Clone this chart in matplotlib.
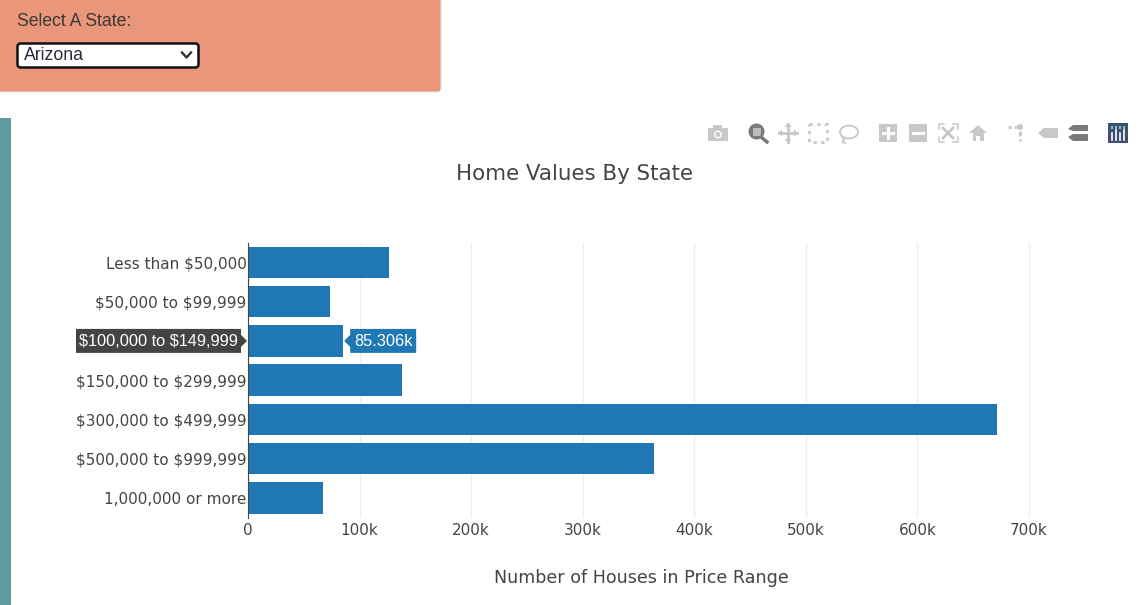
import matplotlib
matplotlib.use("Agg")
import matplotlib.pyplot as plt
from matplotlib.patches import Rectangle, FancyBboxPatch, Polygon, Circle, Ellipse

plt.rcParams["text.parse_math"] = False  # labels have dollar signs

# values
price_ranges = ["Less than $50,000", "$50,000 to $99,999", "$100,000 to $149,999", "$150,000 to $299,999",
                "$300,000 to $499,999", "$500,000 to $999,999", "1,000,000 or more"]
houses = [126500, 73200, 85306, 138000, 671000, 363500, 66800]
x_ticks = [0, 100000, 200000, 300000, 400000, 500000, 600000, 700000]
x_tick_labels = ["0", "100k", "200k", "300k", "400k", "500k", "600k", "700k"]
hover_index = 2
hover_value = "85.306k"
state = "Arizona"

W, H = 1139, 605
BAR = "#1f77b4"
GREY = "#444444"
ICON = "#c8c8c8"
ICON_ON = "#7a7a7a"

fig = plt.figure(figsize=(W / 100, H / 100), dpi=100)

# page layer in pixel coords, for the bits around the chart
bg = fig.add_axes([0, 0, 1, 1])
bg.set_xlim(0, W)
bg.set_ylim(H, 0)
bg.axis("off")

# dropdown panel
bg.add_patch(FancyBboxPatch((-20, -20), 461, 112, boxstyle="round,pad=0,rounding_size=4", fc="#e9967a", ec="#e3e3e3", lw=0.8))
bg.text(17, 21, "Select A State:", family="Liberation Sans", fontsize=12.7, color="#3a3a3a", va="center")
bg.add_patch(FancyBboxPatch((17.5, 43.5), 181, 24, boxstyle="round,pad=0,rounding_size=3", fc="white", ec="#101010", lw=1.8))
bg.text(24, 55.5, state, family="Liberation Sans", fontsize=12.7, color="#2a2a3a", va="center")
bg.plot([182, 186.5, 191], [52.5, 57.5, 52.5], color="#333333", lw=1.7)

# teal strip on the left
bg.add_patch(Rectangle((0, 118), 11, H - 118, fc="#5f9ea0", ec="none"))

# modebar icons
bg.add_patch(Rectangle((708, 128), 20, 13, fc=ICON, ec="none"))
bg.add_patch(Rectangle((713, 125), 9, 4, fc=ICON, ec="none"))
bg.add_patch(Circle((718, 134.5), 4, fc="white", ec="none"))
bg.add_patch(Circle((718, 134.5), 2.5, fc=ICON, ec="none"))

bg.add_patch(Circle((756.5, 131.5), 8, fc=ICON_ON, ec="none"))
bg.add_patch(Rectangle((752.5, 127.5), 8, 8, fc="#bdbdbd", ec="none"))
bg.plot([761, 767], [137, 142], color=ICON_ON, lw=2.5)

bg.plot([779, 797], [133, 133], color=ICON, lw=2)
bg.plot([788, 788], [124, 142], color=ICON, lw=2)
bg.add_patch(Polygon([[778, 133], [782, 129.5], [782, 136.5]], fc=ICON, ec="none"))
bg.add_patch(Polygon([[798, 133], [794, 129.5], [794, 136.5]], fc=ICON, ec="none"))
bg.add_patch(Polygon([[788, 123], [784.5, 127], [791.5, 127]], fc=ICON, ec="none"))
bg.add_patch(Polygon([[788, 143], [784.5, 139], [791.5, 139]], fc=ICON, ec="none"))

bg.add_patch(Rectangle((809, 124), 18, 18, fc="none", ec=ICON, lw=2, ls=(0, (1.2, 1.6))))

bg.add_patch(Ellipse((849, 132), 18, 13, fc="none", ec=ICON, lw=1.3))
bg.plot([842, 844, 842, 845], [136, 140, 142, 143], color=ICON, lw=1.2)

bg.add_patch(Rectangle((879, 124), 18, 18, fc=ICON, ec="none"))
bg.plot([883, 893], [133, 133], color="white", lw=2.2)
bg.plot([888, 888], [128, 138], color="white", lw=2.2)

bg.add_patch(Rectangle((909, 124), 18, 18, fc=ICON, ec="none"))
bg.plot([913, 923], [133, 133], color="white", lw=2.2)

for sx, sy in [(938.5, 124), (957.5, 124), (938.5, 142), (957.5, 142)]:
    dx = 5 if sx < 948 else -5
    dy = 5 if sy < 133 else -5
    bg.plot([sx, sx, sx + dx], [sy + dy, sy, sy], color=ICON, lw=1.1)
bg.plot([943, 953], [128, 138], color=ICON, lw=2)
bg.plot([943, 953], [138, 128], color=ICON, lw=2)

bg.add_patch(Polygon([[969, 133], [978, 125], [987, 133]], fc=ICON, ec="none"))
bg.add_patch(Rectangle((972.5, 133), 11, 8, fc=ICON, ec="none"))
bg.add_patch(Rectangle((976, 136), 4, 5, fc="white", ec="none"))

bg.add_patch(Circle((1020, 127), 3, fc=ICON, ec="none"))
bg.plot([1008, 1017], [127, 127], color=ICON, lw=2, ls=(0, (1.2, 1)))
bg.plot([1020, 1020], [131, 141], color=ICON, lw=2.2, ls=(0, (1.6, 1)))

bg.add_patch(Polygon([[1038, 133], [1044, 128], [1058, 128], [1058, 138], [1044, 138]], fc=ICON, ec="none"))
bg.add_patch(Polygon([[1068, 129], [1073, 125], [1088, 125], [1088, 131], [1073, 131]], fc=ICON_ON, ec="none"))
bg.add_patch(Polygon([[1068, 137], [1073, 134], [1088, 134], [1088, 141], [1073, 141]], fc=ICON_ON, ec="none"))

bg.add_patch(Rectangle((1108, 123), 20, 20, fc="#3f4f75", ec="none"))
for bx, bar_top in [(1112, 133), (1116, 130), (1120, 133), (1124, 130)]:
    bg.plot([bx, bx], [bar_top, 140], color="white", lw=1.2)
    bg.plot([bx, bx], [127, 127.6], color="#80cfbe", lw=1.4)

# chart, placed so the axis lines up with the page
left, right, top, bottom = 248, 1035, 242.7, 517.7
ax = fig.add_axes([left / W, 1 - bottom / H, (right - left) / W, (bottom - top) / H])
ax.patch.set_alpha(0)
ypos = list(range(len(price_ranges)))
ax.barh(ypos, houses, height=0.8, color=BAR, zorder=3)
ax.set_xlim(0, (right - left) / 781 * 700000)
ax.set_ylim(len(price_ranges) - 0.5, -0.5)
ax.set_xticks(x_ticks)
ax.set_xticklabels(x_tick_labels, fontsize=11, color=GREY)
ax.set_yticks(ypos)
ax.set_yticklabels(price_ranges, fontsize=11, color=GREY, va="center_baseline")
ax.get_yticklabels()[hover_index].set_visible(False)
ax.tick_params(axis="both", length=0, pad=1)
ax.tick_params(axis="x", pad=4)
ax.grid(axis="x", color="#eeeeee", lw=1, zorder=0)
for name in ["top", "right", "bottom"]:
    ax.spines[name].set_visible(False)
ax.spines["left"].set_color(GREY)
ax.spines["left"].set_linewidth(0.8)
ax.spines["left"].set_zorder(5)
ax.set_xlabel("Number of Houses in Price Range", fontsize=12.65, color=GREY, labelpad=22)

fig.text(574 / W, 1 - 174 / H, "Home Values By State", fontsize=15.4, color=GREY, ha="center", va="center")

# hover labels, anchored to the hovered bar
hx, hy = ax.transData.transform((houses[hover_index], hover_index))
hy = H - hy
x0 = left
bg.add_patch(Polygon([[x0 - 1, hy], [x0 - 7, hy - 6], [x0 - 7, hy - 12], [x0 - 172, hy - 12], [x0 - 172, hy + 12],
                      [x0 - 7, hy + 12], [x0 - 7, hy + 6]], fc=GREY, ec="none", zorder=10))
bg.text(x0 - 10, hy + 0.5, price_ranges[hover_index], family="Liberation Sans", fontsize=11.8, color="white",
        ha="right", va="center", zorder=11)
bg.add_patch(Polygon([[hx + 1, hy], [hx + 7, hy - 6], [hx + 7, hy - 12], [hx + 73, hy - 12], [hx + 73, hy + 12],
                      [hx + 7, hy + 12], [hx + 7, hy + 6]], fc=BAR, ec="none", zorder=10))
bg.text(hx + 11, hy + 0.5, hover_value, family="Liberation Sans", fontsize=11.8, color="white", ha="left", va="center", zorder=11)
bg.set_zorder(ax.get_zorder() + 1)
bg.patch.set_alpha(0)

plt.savefig("out.png", dpi=100)
